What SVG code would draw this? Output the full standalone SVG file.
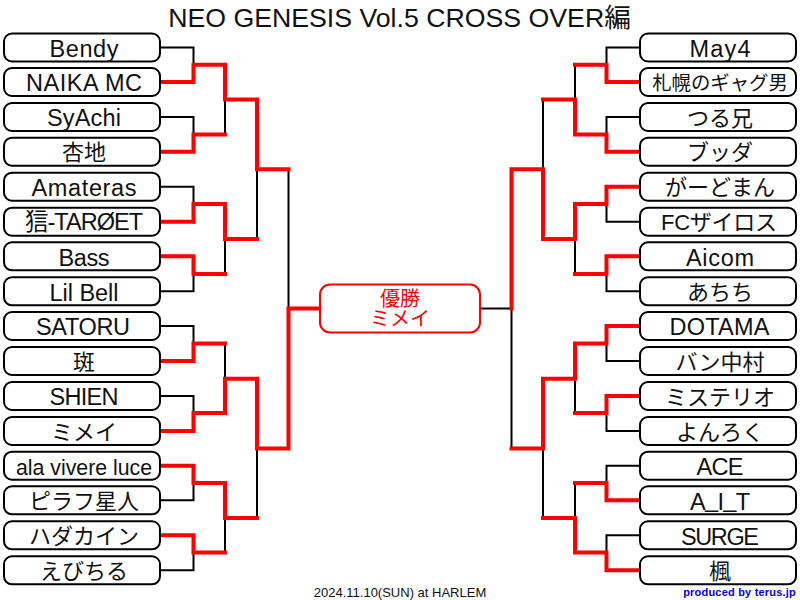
<svg xmlns="http://www.w3.org/2000/svg" width="800" height="600" viewBox="0 0 800 600">
<style>
text{font-family:"Liberation Sans","Noto Sans CJK JP",sans-serif;text-anchor:middle;fill:#111}
.n text{font-size:22px}
.n text.a{font-size:23.5px}
.n rect{fill:#fff;stroke:#000;stroke-width:2}
.k{fill:none;stroke:#000;stroke-width:2}
.r{fill:none;stroke:#f00;stroke-width:4;stroke-linejoin:miter;stroke-linecap:square}
</style>
<rect width="800" height="600" fill="#fff"/>
<text x="399.5" y="27" style="font-size:26.7px">NEO GENESIS Vol.5 CROSS OVER編</text>
<g id="connectors">
<path class="k" d="M160 47.5H193.5V64.8M160 117H193.5V134.5M160 186.7H193.5V204M160 291.3H193.5V274M160 326H193.5V343.5M160 396H193.5V413M160 500.3H193.5V483M160 570.3H193.5V552.5"/>
<path class="k" d="M225 134.5V99.6M225 274V239M225 343.5V378.7M225 552.5V518M257 239V169.3M257 518V448.4M288.5 169.3V308.5"/>
<path class="k" d="M640 47.5H606.5V64.8M640 117H606.5V134.5M640 221.7H606.5V204M640 291.3H606.5V274M640 361H606.5V343.5M640 431H606.5V413M640 465.7H606.5V483M640 535.3H606.5V552.5"/>
<path class="k" d="M575 64.8V99.6M575 274V239M575 413V378.7M575 483V518M543 99.6V169.3M543 518V448.4M511.5 448.4V308.5M480 308.5H511.5"/>
<path class="r" d="M160 82H193.5V64.8H225V99.6H257V169.3H288.5"/>
<path class="r" d="M160 151.7H193.5V134.5H225"/>
<path class="r" d="M160 221.7H193.5V204H225V239H257"/>
<path class="r" d="M160 256.3H193.5V274H225"/>
<path class="r" d="M160 361H193.5V343.5H225"/>
<path class="r" d="M160 431H193.5V413H225V378.7H257V448.4H288.5V308.5H320"/>
<path class="r" d="M160 465.7H193.5V483H225V518H257"/>
<path class="r" d="M160 535.3H193.5V552.5H225"/>
<path class="r" d="M640 82H606.5V64.8H575"/>
<path class="r" d="M640 151.7H606.5V134.5H575V99.6H543"/>
<path class="r" d="M640 186.7H606.5V204H575V239H543V169.3H511.5V308.5"/>
<path class="r" d="M640 256.3H606.5V274H575"/>
<path class="r" d="M640 326H606.5V343.5H575V378.7H543V448.4H511.5"/>
<path class="r" d="M640 396H606.5V413H575"/>
<path class="r" d="M640 500.3H606.5V483H575"/>
<path class="r" d="M640 570.3H606.5V552.5H575V518H543"/>
</g>
<g class="n" id="l1"><rect x="4" y="33.5" width="156" height="28" rx="8"/><text class="a" x="84" y="56.5" textLength="69">Bendy</text></g>
<g class="n" id="l2"><rect x="4" y="68" width="156" height="28" rx="8"/><text class="a" x="84" y="91" textLength="116">NAIKA MC</text></g>
<g class="n" id="l3"><rect x="4" y="103" width="156" height="28" rx="8"/><text class="a" x="84" y="126" textLength="74">SyAchi</text></g>
<g class="n" id="l4"><rect x="4" y="137.7" width="156" height="28" rx="8"/><text x="84" y="160">杏地</text></g>
<g class="n" id="l5"><rect x="4" y="172.7" width="156" height="28" rx="8"/><text class="a" x="84" y="195.5" textLength="105">Amateras</text></g>
<g class="n" id="l6"><rect x="4" y="207.7" width="156" height="28" rx="8"/><text class="a" x="84" y="230" textLength="118">狺-TARØET</text></g>
<g class="n" id="l7"><rect x="4" y="242.3" width="156" height="28" rx="8"/><text class="a" x="84" y="265.5" textLength="51">Bass</text></g>
<g class="n" id="l8"><rect x="4" y="277.3" width="156" height="28" rx="8"/><text class="a" x="84" y="300.5" textLength="69">Lil Bell</text></g>
<g class="n" id="l9"><rect x="4" y="312" width="156" height="28" rx="8"/><text class="a" x="83" y="335" textLength="94">SATORU</text></g>
<g class="n" id="l10"><rect x="4" y="347" width="156" height="28" rx="8"/><text x="84" y="369.5">斑</text></g>
<g class="n" id="l11"><rect x="4" y="382" width="156" height="28" rx="8"/><text class="a" x="84" y="405" textLength="69">SHIEN</text></g>
<g class="n" id="l12"><rect x="4" y="417" width="156" height="28" rx="8"/><text x="84" y="439.5">ミメイ</text></g>
<g class="n" id="l13"><rect x="4" y="451.7" width="156" height="28" rx="8"/><text x="84" y="474.5" style="font-size:21.3px">ala vivere luce</text></g>
<g class="n" id="l14"><rect x="4" y="486.3" width="156" height="28" rx="8"/><text x="84" y="509">ピラフ星人</text></g>
<g class="n" id="l15"><rect x="4" y="521.3" width="156" height="28" rx="8"/><text x="84" y="544">ハダカイン</text></g>
<g class="n" id="l16"><rect x="4" y="556.3" width="156" height="28" rx="8"/><text x="84" y="579">えびちる</text></g>
<g class="n" id="r1"><rect x="640" y="33.5" width="156" height="28" rx="8"/><text class="a" x="720" y="56.5" textLength="61">May4</text></g>
<g class="n" id="r2"><rect x="640" y="68" width="156" height="28" rx="8"/><text x="720" y="89.5" style="font-size:19.4px">札幌のギャグ男</text></g>
<g class="n" id="r3"><rect x="640" y="103" width="156" height="28" rx="8"/><text x="720" y="125.5">つる兄</text></g>
<g class="n" id="r4"><rect x="640" y="137.7" width="156" height="28" rx="8"/><text x="720" y="160">ブッダ</text></g>
<g class="n" id="r5"><rect x="640" y="172.7" width="156" height="28" rx="8"/><text x="720" y="195">がーどまん</text></g>
<g class="n" id="r6"><rect x="640" y="207.7" width="156" height="28" rx="8"/><text x="719" y="230" textLength="116">FCザイロス</text></g>
<g class="n" id="r7"><rect x="640" y="242.3" width="156" height="28" rx="8"/><text class="a" x="720" y="265.5" textLength="68">Aicom</text></g>
<g class="n" id="r8"><rect x="640" y="277.3" width="156" height="28" rx="8"/><text x="720" y="300">あちち</text></g>
<g class="n" id="r9"><rect x="640" y="312" width="156" height="28" rx="8"/><text class="a" x="719.5" y="335" textLength="100">DOTAMA</text></g>
<g class="n" id="r10"><rect x="640" y="347" width="156" height="28" rx="8"/><text x="720" y="369.5">バン中村</text></g>
<g class="n" id="r11"><rect x="640" y="382" width="156" height="28" rx="8"/><text x="720" y="404.5">ミステリオ</text></g>
<g class="n" id="r12"><rect x="640" y="417" width="156" height="28" rx="8"/><text x="720" y="439.5">よんろく</text></g>
<g class="n" id="r13"><rect x="640" y="451.7" width="156" height="28" rx="8"/><text class="a" x="720" y="474.5" textLength="47">ACE</text></g>
<g class="n" id="r14"><rect x="640" y="486.3" width="156" height="28" rx="8"/><text class="a" x="720" y="509.5" textLength="60">A<tspan dy="-3">_</tspan><tspan dy="3">I</tspan><tspan dy="-3">_</tspan><tspan dy="3">T</tspan></text></g>
<g class="n" id="r15"><rect x="640" y="521.3" width="156" height="28" rx="8"/><text class="a" x="720" y="544.5" textLength="78">SURGE</text></g>
<g class="n" id="r16"><rect x="640" y="556.3" width="156" height="28" rx="8"/><text x="720" y="579">楓</text></g>
<g id="champion"><rect x="320" y="284.5" width="160" height="48" rx="10" fill="#fff" stroke="#f00" stroke-width="2"/><text x="400" y="306" style="font-size:20px;fill:#f00">優勝</text><text x="400" y="326" style="font-size:20px;fill:#f00">ミメイ</text></g>
<text x="400" y="597" style="font-size:13px">2024.11.10(SUN) at HARLEM</text>
<text x="796" y="596" style="font-size:11px;font-weight:bold;fill:#00f;text-anchor:end;letter-spacing:.2px">produced by terus.jp</text>
</svg>
